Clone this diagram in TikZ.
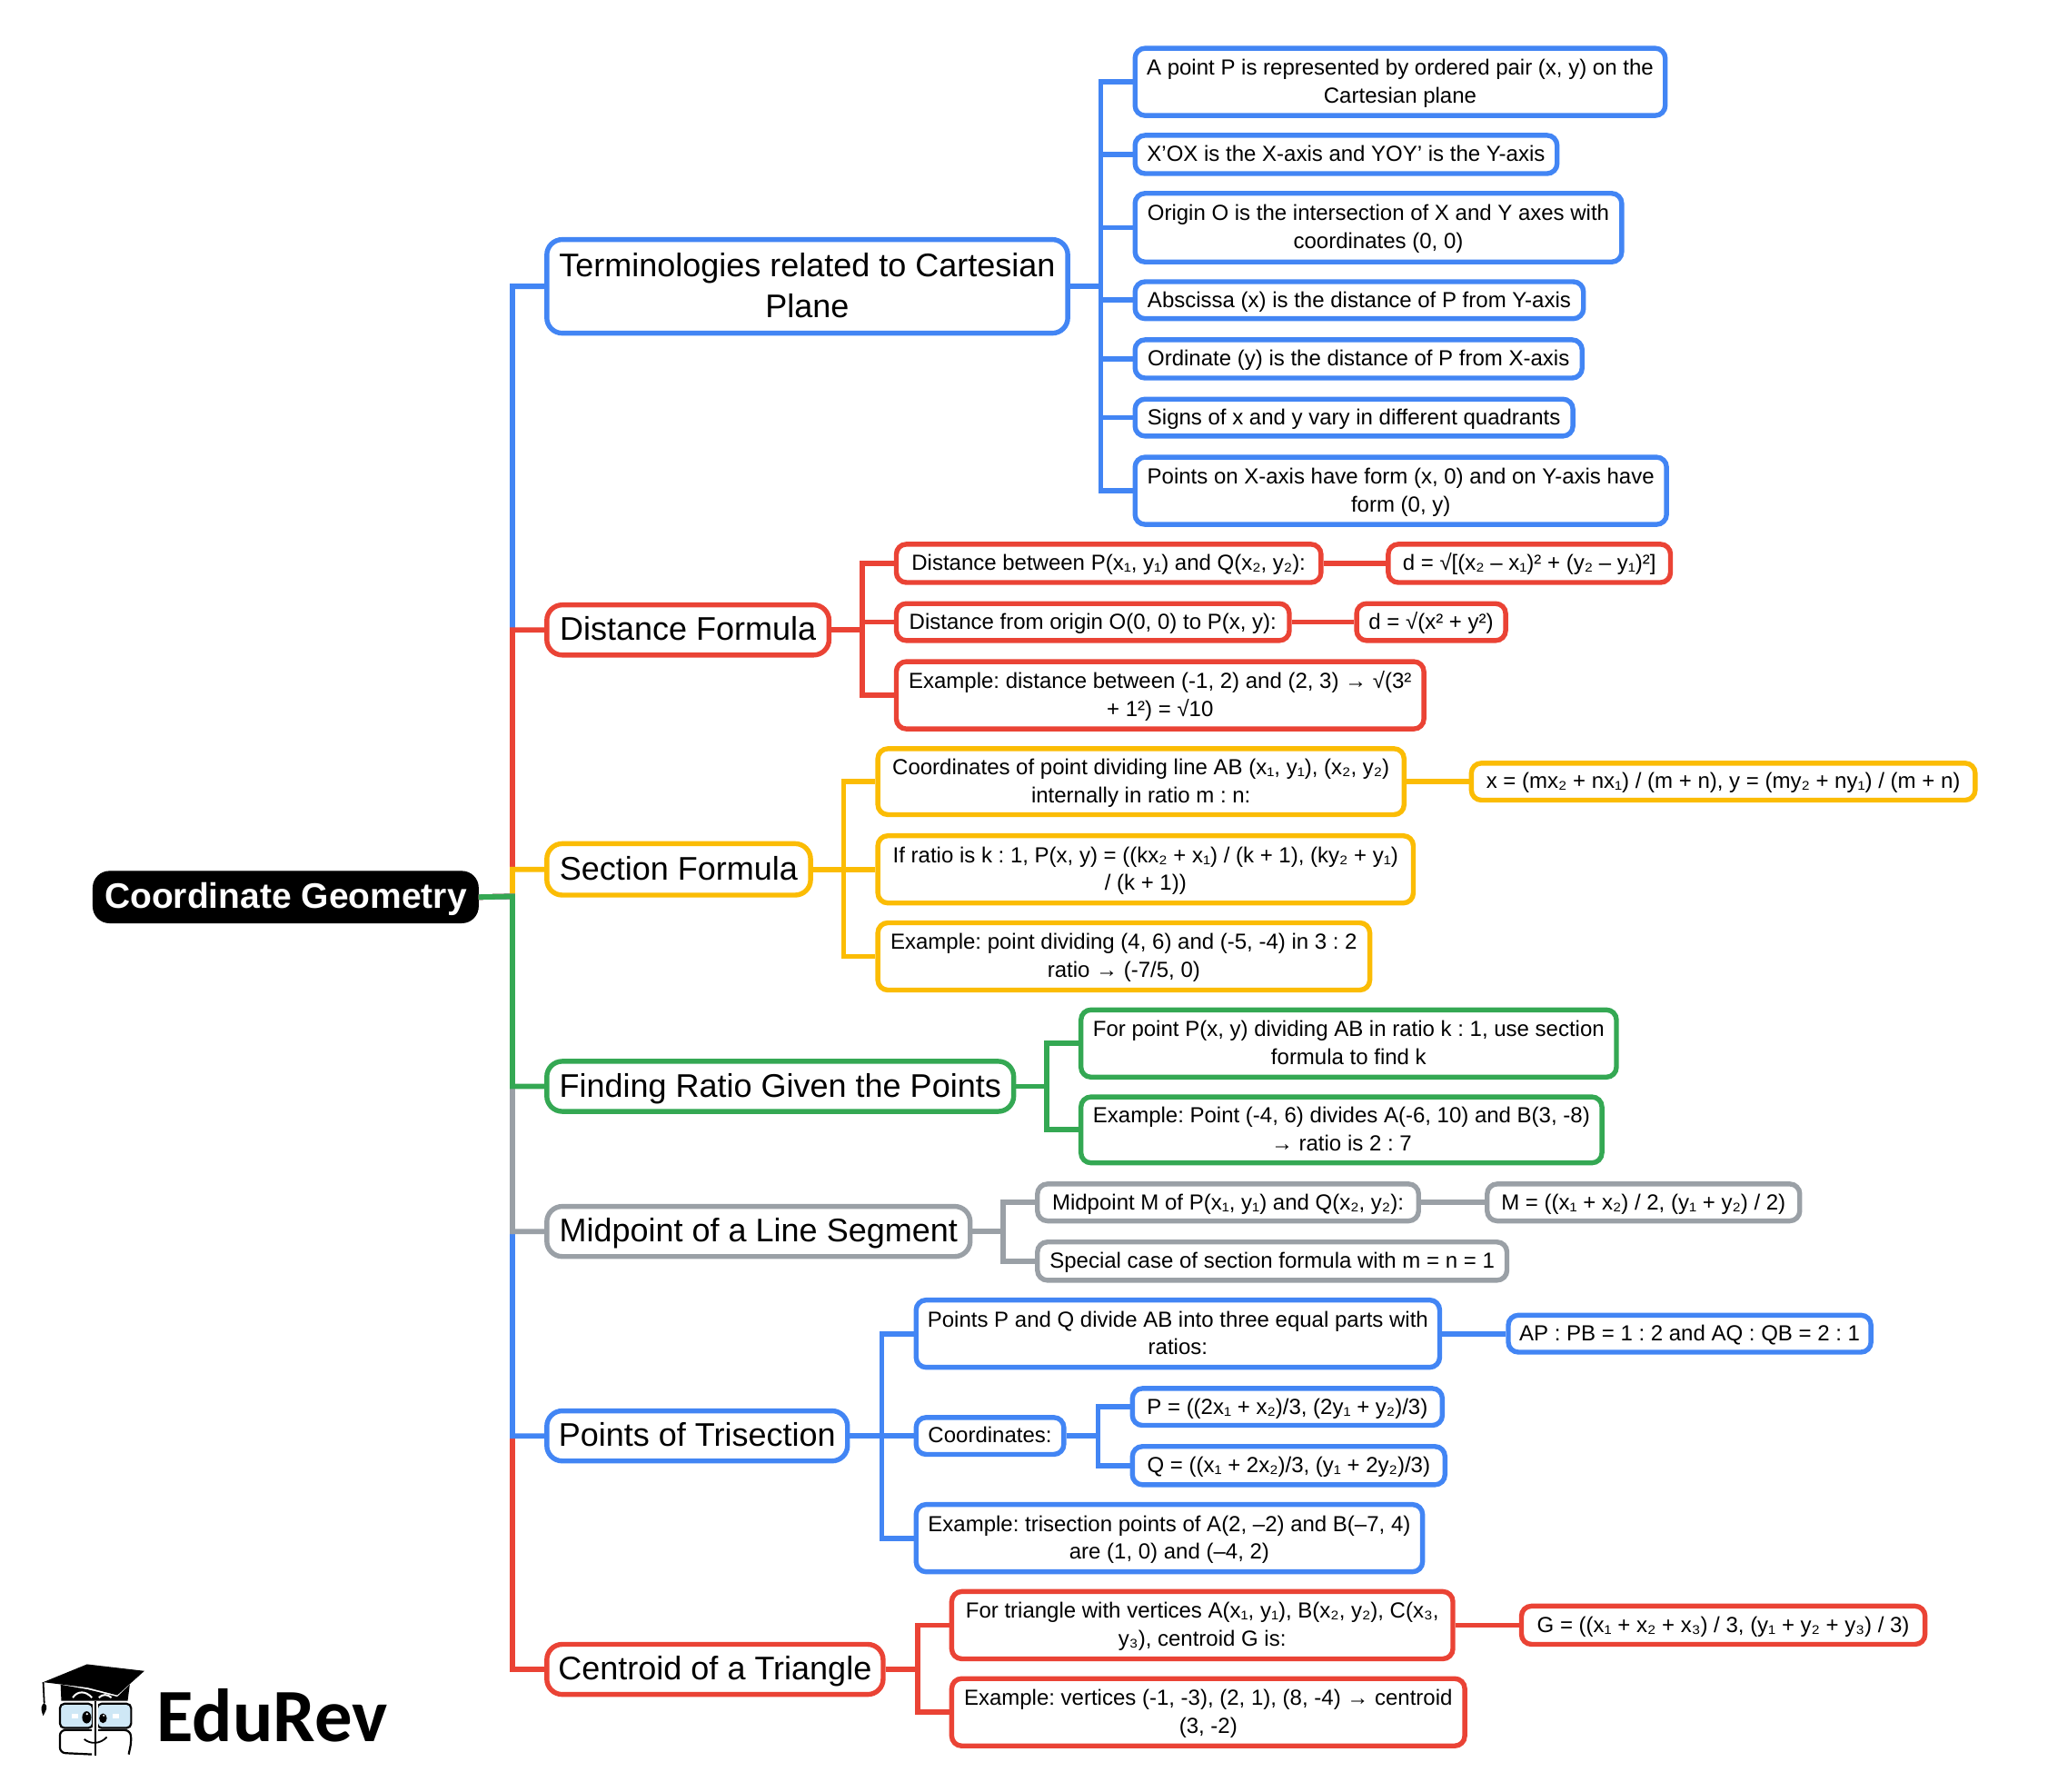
\documentclass[tikz,border=0pt]{standalone}
\usepackage{fontspec}
\setmainfont{Liberation Sans}
\newfontfamily\logofont{Carlito}
\frenchspacing
\definecolor{gblue}{HTML}{4285F4}
\definecolor{gred}{HTML}{EA4335}
\definecolor{gyellow}{HTML}{FBBC04}
\definecolor{ggreen}{HTML}{34A853}
\definecolor{ggray}{HTML}{9AA0A6}
\definecolor{lensblue}{HTML}{CFE8F6}
\newcommand{\lb}{\rule[-0.22em]{0pt}{1.09em}}
\newcommand{\bx}[7]{\node[#2,minimum width={(#5-#3)*0.72577pt},minimum height={(#6-#4)*0.72577pt}] (#1) at ({(#3+#5)/2},{(#4+#6)/2}) {\lb #7\lb};}
\tikzset{
 x=0.72577pt,y=-0.72577pt,
 leafbox/.style={draw,fill=white,line width=2.7pt,rounded corners=5.5pt,inner sep=0pt,align=center,font=\fontsize{12}{15.4}\selectfont},
 branchbox/.style={draw,fill=white,line width=2.7pt,rounded corners=8.5pt,inner sep=0pt,align=center,font=\fontsize{18}{22.6}\selectfont},
 rootbox/.style={draw=black,fill=black,text=white,line width=0.5pt,rounded corners=9pt,inner sep=0pt,align=center,font=\fontsize{19.5}{24}\selectfont\bfseries},
 conn/.style={line width=2.9pt,line join=miter},
 bb/.style={draw=gblue},br/.style={draw=gred},by/.style={draw=gyellow},bg/.style={draw=ggreen},bk/.style={draw=ggray},
}
\begin{document}
\begin{tikzpicture}
\useasboundingbox (-0.6,-0.6) rectangle (1567.4,1357.9);
\bx{root}{rootbox}{70}{660}{362}{699}{Coordinate Geometry}
\coordinate (trunk) at (388,679);
% branches
\bx{bA}{branchbox,bb}{414}{181}{809}{252}{Terminologies related to Cartesian\\Plane}
\bx{bB}{branchbox,br}{414}{458}{628}{496}{Distance Formula}
\bx{bC}{branchbox,by}{414}{639}{614}{678}{Section Formula}
\bx{bD}{branchbox,bg}{414}{804}{768}{842}{Finding Ratio Given the Points}
\bx{bE}{branchbox,bk}{414}{914}{735}{952}{Midpoint of a Line Segment}
\bx{bF}{branchbox,bb}{414}{1069}{642}{1107}{Points of Trisection}
\bx{bG}{branchbox,br}{414}{1246}{669}{1284}{Centroid of a Triangle}
% terminology
\bx{a1}{leafbox,bb}{860}{36}{1262}{87}{A point P is represented by ordered pair (x, y) on the\\Cartesian plane}
\bx{a2}{leafbox,bb}{860}{102}{1180}{131}{X'OX is the X-axis and YOY' is the Y-axis}
\bx{a3}{leafbox,bb}{860}{146}{1229}{198}{Origin O is the intersection of X and Y axes with\\coordinates (0, 0)}
\bx{a4}{leafbox,bb}{860}{213}{1200}{241}{Abscissa (x) is the distance of P from Y-axis}
\bx{a5}{leafbox,bb}{860}{257}{1199}{286}{Ordinate (y) is the distance of P from X-axis}
\bx{a6}{leafbox,bb}{860}{302}{1192}{330}{Signs of x and y vary in different quadrants}
\bx{a7}{leafbox,bb}{860}{346}{1263}{397}{Points on X-axis have form (x, 0) and on Y-axis have\\form (0, y)}
% distance
\bx{d1}{leafbox,br}{679}{412}{1001}{441}{Distance between P(x₁, y₁) and Q(x₂, y₂):}
\bx{d1r}{leafbox,br}{1052}{412}{1266}{441}{d = √[(x₂ – x₁)² + (y₂ – y₁)²]}
\bx{d2}{leafbox,br}{679}{457}{977}{485}{Distance from origin O(0, 0) to P(x, y):}
\bx{d2r}{leafbox,br}{1028}{457}{1141}{485}{d = √(x² + y²)}
\bx{d3}{leafbox,br}{679}{501}{1079}{552}{Example: distance between (-1, 2) and (2, 3) → √(3²\\+ 1²) = √10}
% section
\bx{s1}{leafbox,by}{665}{567}{1064}{617}{Coordinates of point dividing line AB (x₁, y₁), (x₂, y₂)\\internally in ratio m : n:}
\bx{s1r}{leafbox,by}{1115}{578}{1497}{606}{x = (mx₂ + nx₁) / (m + n), y = (my₂ + ny₁) / (m + n)}
\bx{s2}{leafbox,by}{665}{633}{1071}{684}{If ratio is k : 1, P(x, y) = ((kx₂ + x₁) / (k + 1), (ky₂ + y₁)\\/ (k + 1))}
\bx{s3}{leafbox,by}{665}{699}{1038}{750}{Example: point dividing (4, 6) and (-5, -4) in 3 : 2\\ratio → (-7/5, 0)}
% ratio
\bx{f1}{leafbox,bg}{819}{765}{1225}{816}{For point P(x, y) dividing AB in ratio k : 1, use section\\formula to find k}
\bx{f2}{leafbox,bg}{819}{831}{1214}{881}{Example: Point (-4, 6) divides A(-6, 10) and B(3, -8)\\→ ratio is 2 : 7}
% midpoint
\bx{m1}{leafbox,bk}{786}{897}{1075}{925}{Midpoint M of P(x₁, y₁) and Q(x₂, y₂):}
\bx{m1r}{leafbox,bk}{1127}{897}{1364}{925}{M = ((x₁ + x₂) / 2, (y₁ + y₂) / 2)}
\bx{m2}{leafbox,bk}{786}{941}{1142}{970}{Special case of section formula with m = n = 1}
% trisection
\bx{p1}{leafbox,bb}{694}{985}{1091}{1036}{Points P and Q divide AB into three equal parts with\\ratios:}
\bx{p1r}{leafbox,bb}{1143}{996.5}{1418}{1024.5}{AP : PB = 1 : 2 and AQ : QB = 2 : 1}
\bx{p2}{leafbox,bb}{694}{1074}{806}{1102}{Coordinates:}
\bx{p2a}{leafbox,bb}{858}{1052}{1093}{1080}{P = ((2x₁ + x₂)/3, (2y₁ + y₂)/3)}
\bx{p2b}{leafbox,bb}{858}{1096}{1095}{1125}{Q = ((x₁ + 2x₂)/3, (y₁ + 2y₂)/3)}
\bx{p3}{leafbox,bb}{694}{1140}{1078}{1191}{Example: trisection points of A(2, –2) and B(–7, 4)\\are (1, 0) and (–4, 2)}
% centroid
\bx{c1}{leafbox,br}{721}{1206}{1101}{1257}{For triangle with vertices A(x₁, y₁), B(x₂, y₂), C(x₃,\\y₃), centroid G is:}
\bx{c1r}{leafbox,br}{1153}{1217}{1459}{1246}{G = ((x₁ + x₂ + x₃) / 3, (y₁ + y₂ + y₃) / 3)}
\bx{c2}{leafbox,br}{721}{1272}{1110}{1323}{Example: vertices (-1, -3), (2, 1), (8, -4) → centroid\\(3, -2)}
% trunk connectors (painted so that nearer branches lie on top)
\draw[conn,gblue] (root.east) -- (trunk) |- (bA.west);
\draw[conn,gred] (root.east) -- (trunk) |- (bB.west);
\draw[conn,gyellow] (root.east) -- (trunk) |- (bC.west);
\draw[conn,gred] (root.east) -- (trunk) |- (bG.west);
\draw[conn,gblue] (root.east) -- (trunk) |- (bF.west);
\draw[conn,ggray] (root.east) -- (trunk) |- (bE.west);
\draw[conn,ggreen] (root.east) -- (trunk) |- (bD.west);
% branch connectors
\foreach \p/\c/\j/\list in {bA/gblue/834/{a1,a2,a3,a4,a5,a6,a7},bB/gred/653/{d1,d2,d3},bC/gyellow/639/{s1,s2,s3},bD/ggreen/793/{f1,f2},bE/ggray/760/{m1,m2},bF/gblue/668/{p1,p2,p3},bG/gred/695/{c1,c2},p2/gblue/832/{p2a,p2b}}{
 \foreach \q in \list {\draw[conn,\c] (\p.east) -- (\j,0 |- \p.east) |- (\q.west);}
}
\draw[conn,gred] (d1.east) -- (d1r.west);
\draw[conn,gred] (d2.east) -- (d2r.west);
\draw[conn,gyellow] (s1.east) -- (s1r.west);
\draw[conn,ggray] (m1.east) -- (m1r.west);
\draw[conn,gblue] (p1.east) -- (p1r.west);
\draw[conn,gred] (c1.east) -- (c1r.west);
% logo
\node[anchor=base west,inner sep=0pt,font=\fontsize{41.4}{42}\selectfont\logofont\bfseries] (logotext) at (118,1320) {EduRev};
\begin{scope}[x=0.19133pt,y=-0.1669pt,shift={(0,5336)}]
 \fill (122,207) -- (248,148) -- (413,170) -- (335,250) -- (250,225) -- cycle;
 \fill (172,215) -- (250,231) -- (335,255) -- (371,215) -- (365,268) -- (174,268) -- cycle;
 \draw[white,line width=1pt] (207,258) .. controls (220,235) and (245,235) .. (262,258);
 \draw[white,line width=1pt] (282,258) .. controls (292,246) and (308,246) .. (318,258);
 \draw[line width=0.9pt] (122,207) -- (125,275);
 \fill (125,275) .. controls (118,282) and (112,290) .. (122,318) .. controls (130,300) and (138,288) .. (125,275);
 \draw[line width=1.1pt,fill=lensblue,rounded corners=2.5pt] (170,278) rectangle (265,358);
 \draw[line width=1.1pt,fill=lensblue,rounded corners=2.5pt] (277,278) rectangle (375,358);
 \draw[line width=1.1pt,rounded corners=3pt] (262,445) -- (170,440) -- (170,365) -- (262,365);
 \draw[line width=1.1pt,rounded corners=3pt] (280,365) -- (372,365) -- (376,400) -- (368,445);
 \draw[white,line width=2.6pt] (272,268) -- (272,448);
 \draw[line width=1.3pt] (272,268) -- (272,448);
 \fill (247,323) ellipse [x radius=13,y radius=20];
 \fill (294,326) ellipse [x radius=11,y radius=16];
 \fill[white] (248,312) circle (3.5);
 \fill[white] (296,317) circle (3);
 \fill[white] (205,310) rectangle (222,327);
 \fill[white] (322,310) rectangle (339,327);
 \draw[line width=0.9pt] (240,395) .. controls (258,412) and (285,412) .. (305,388);
\end{scope}
\end{tikzpicture}
\end{document}
